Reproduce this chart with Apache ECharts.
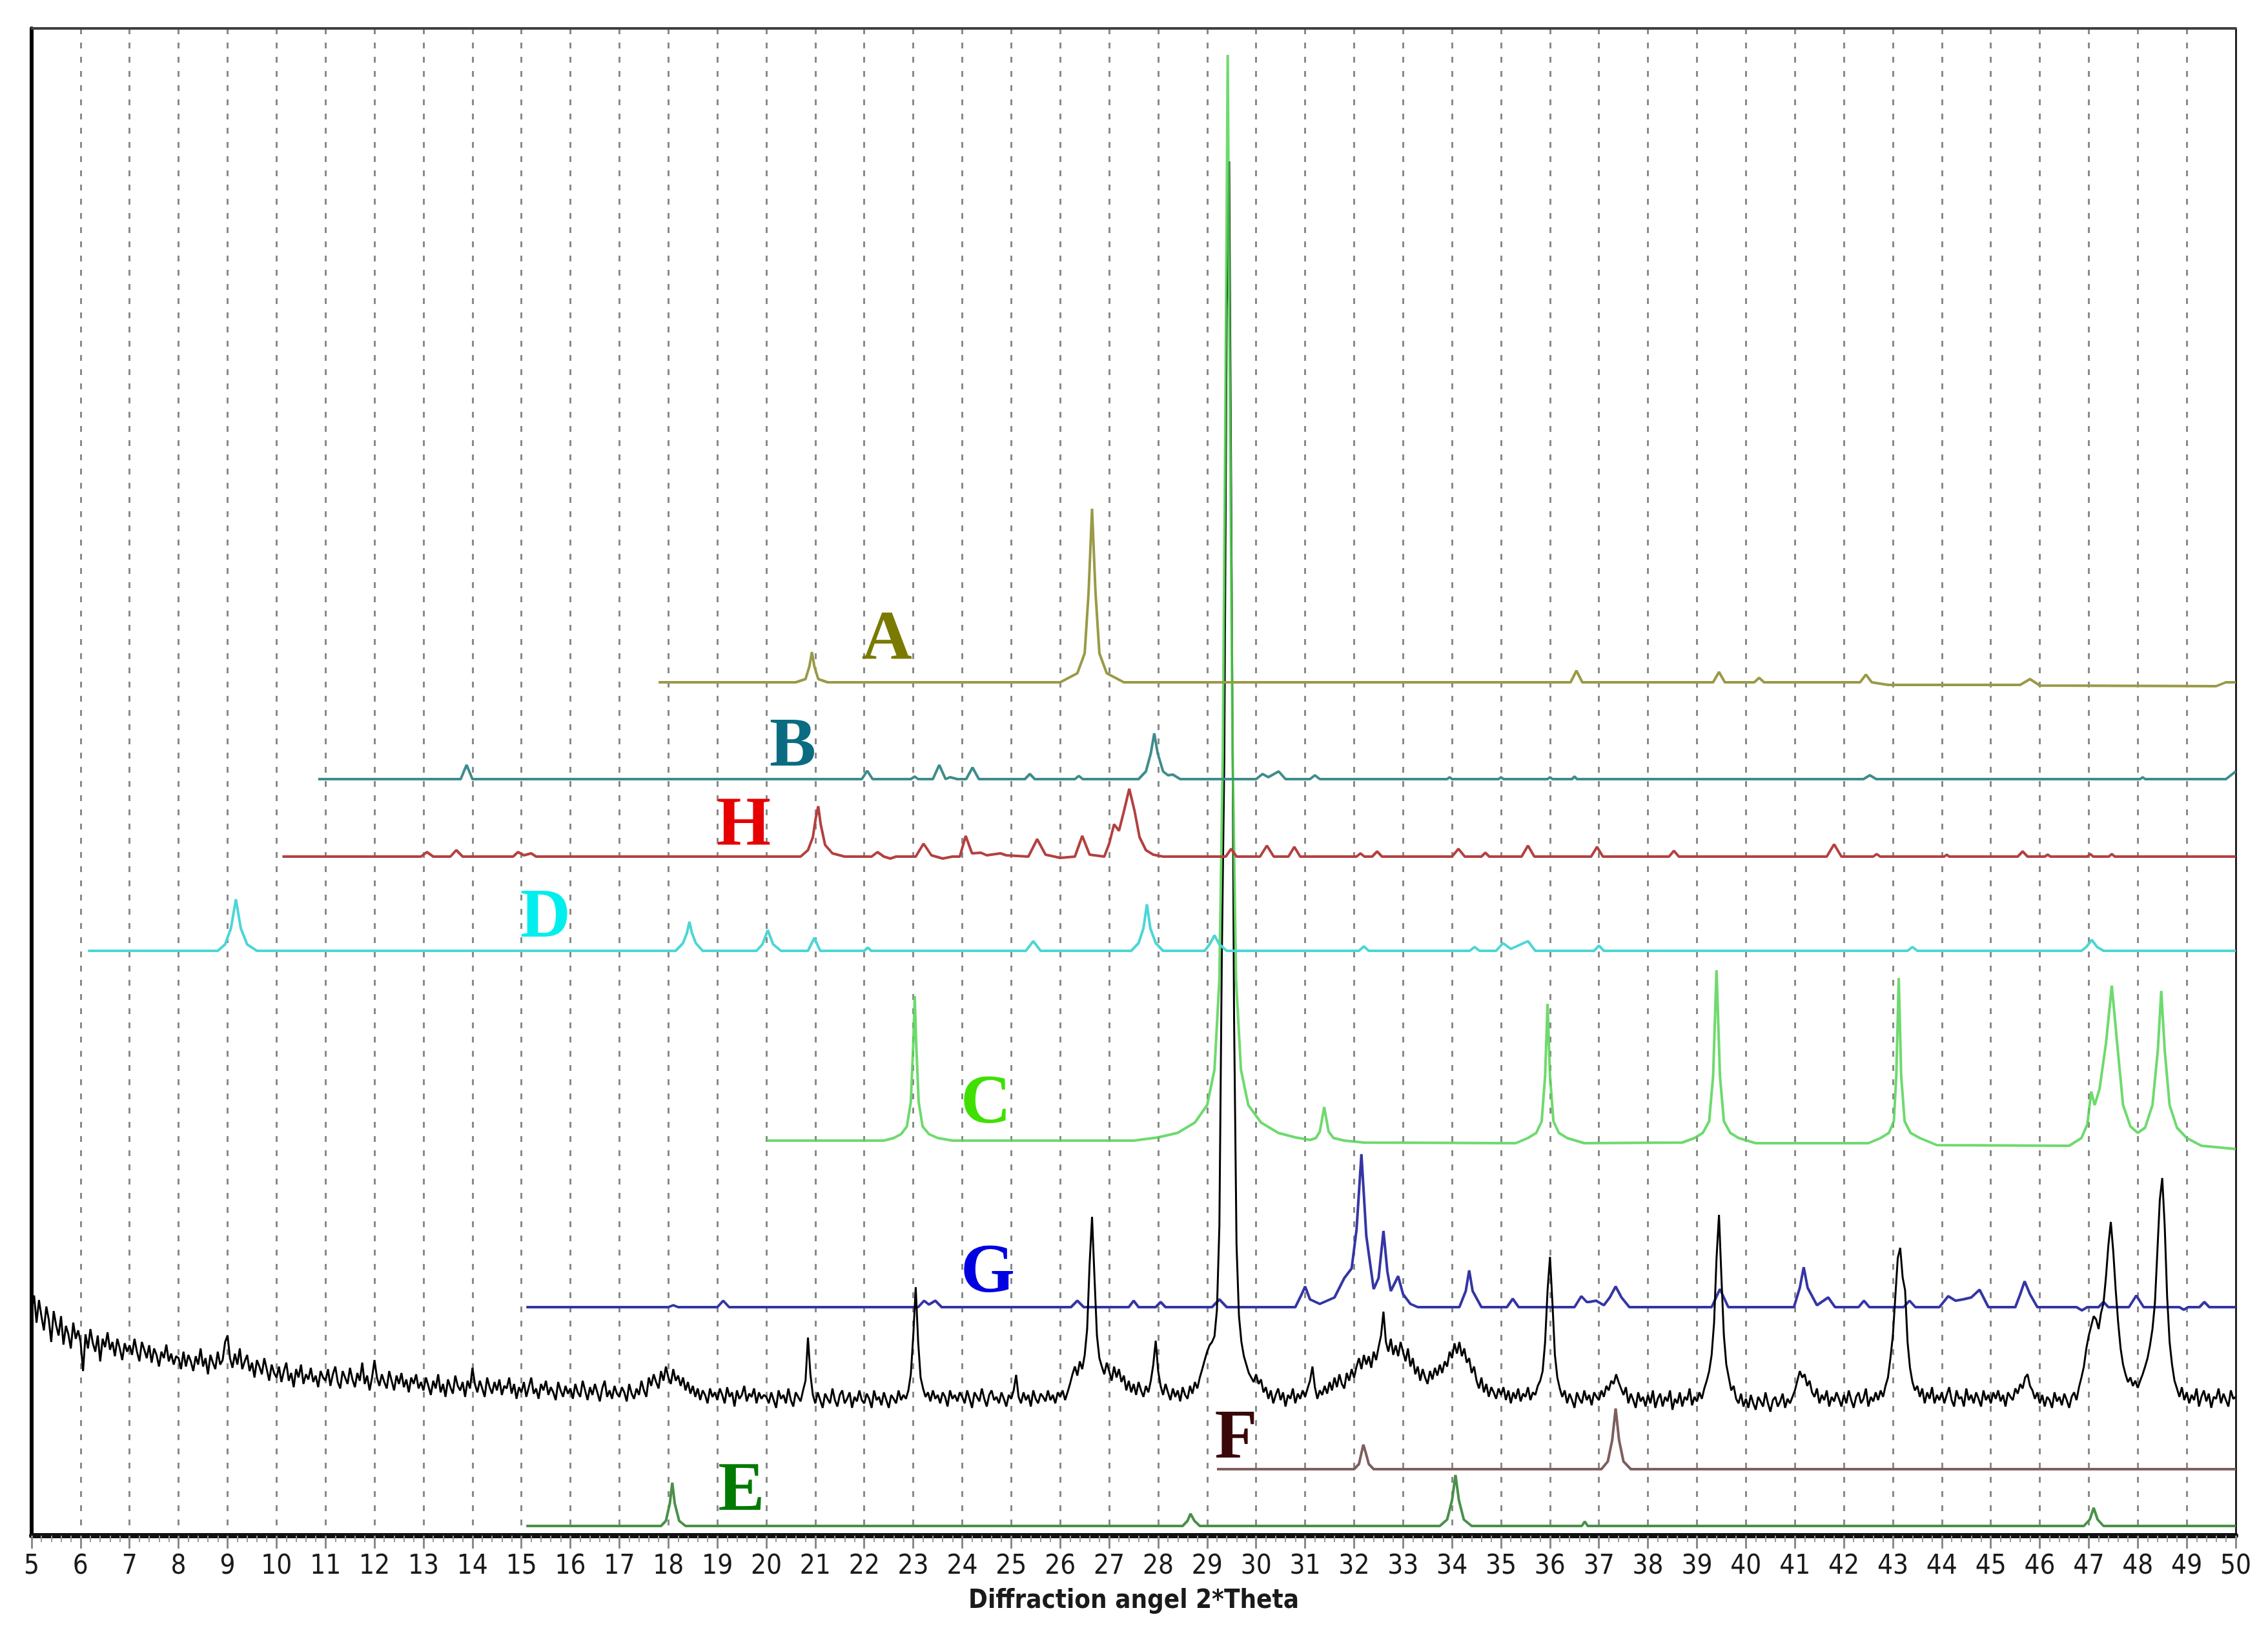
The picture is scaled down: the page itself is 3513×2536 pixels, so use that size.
<!DOCTYPE html>
<html><head><meta charset="utf-8">
<script src="https://cdn.jsdelivr.net/npm/echarts@6/dist/echarts.min.js"></script>
<style>html,body{margin:0;padding:0;background:#fff}#c{width:3513px;height:2536px}</style>
</head><body><div id="c"></div>
<script>
// ---- axis ----
const xMin = 5, xMax = 50, xStep = 1;
const yMin = 0, yMax = 2335;

// ---- measured pattern (black), 2theta from 5.00 step 0.05 ----
const measuredStart = 5, measuredStep = 0.05;
const measured = [
350,372,330,365,340,318,355,335,300,348,326,310,340,296,325,312,290,330,305,318,
300,255,312,290,320,298,285,310,270,305,292,315,288,300,278,305,290,272,298,285,
295,280,305,285,270,300,288,275,295,268,290,280,262,285,275,296,270,282,265,278,
275,258,285,262,280,270,255,278,265,290,262,275,250,280,268,258,285,265,272,300,
310,275,260,282,265,290,258,270,280,255,268,245,272,262,250,275,258,240,265,252,
245,262,238,255,268,240,252,230,258,245,265,235,250,242,260,238,248,230,255,245,
240,258,232,250,262,238,228,255,245,235,260,242,230,252,240,268,235,248,225,245,
272,245,232,250,238,228,255,240,225,248,235,252,230,242,222,245,235,250,228,238,
225,245,232,218,240,228,250,222,235,215,242,230,220,248,232,225,238,215,240,228,
260,235,222,240,228,215,245,230,220,238,225,242,218,232,228,245,220,235,212,230,
222,238,215,230,245,220,228,212,235,225,240,218,230,222,210,238,225,215,232,220,
228,212,235,222,215,240,225,210,230,218,235,222,208,228,240,215,225,212,232,220,
215,230,222,208,235,220,212,228,218,240,225,215,245,232,250,238,228,255,240,262,
245,235,258,240,248,232,245,225,238,220,232,215,228,210,225,218,205,228,215,222,
210,228,218,205,230,215,222,200,225,212,218,232,208,220,215,228,205,222,212,218,
215,205,222,210,198,225,212,218,205,228,210,200,222,215,208,225,240,307,250,218,
205,222,210,198,220,212,205,228,210,200,218,225,205,212,222,198,215,208,225,210,
205,220,212,198,225,210,215,202,222,210,198,218,212,205,225,210,218,212,225,250,
310,385,300,245,228,215,222,208,225,212,218,205,222,215,200,225,212,218,208,222,
215,205,225,212,198,222,215,208,228,212,200,218,225,210,215,205,222,212,200,218,
212,225,249,215,205,222,210,218,200,225,212,205,220,215,208,225,210,218,205,222,
215,225,210,222,235,250,262,248,270,258,280,320,420,494,400,310,275,262,250,268,
255,240,262,245,258,238,248,225,240,222,235,218,238,225,215,232,222,240,265,302,
255,232,218,235,222,210,228,215,225,208,230,218,212,232,220,238,228,245,258,272,
285,295,300,309,350,480,900,1200,1900,2129,1500,800,450,340,300,278,265,252,245,238,
250,235,242,222,230,212,225,205,218,228,210,222,200,218,212,228,205,220,212,225,
215,228,240,262,230,212,225,218,232,220,238,225,245,230,250,235,228,252,240,258,
245,262,275,258,280,265,278,260,285,272,292,310,347,300,285,305,280,295,278,300,
285,270,290,262,275,250,262,240,258,245,235,255,242,260,248,265,252,270,262,285,
275,298,282,300,278,290,268,275,252,262,240,228,245,222,235,215,230,222,212,228,
218,230,210,225,205,222,212,228,208,220,215,230,210,222,218,232,240,255,300,380,
432,360,280,245,228,215,225,205,220,210,198,222,212,205,225,210,218,202,222,215,
210,225,215,232,225,240,235,250,238,228,218,230,205,220,210,198,222,208,215,200,
218,205,225,198,212,220,200,215,208,225,195,212,205,222,200,215,210,228,202,215,
208,222,212,228,240,255,280,330,430,497,400,310,265,245,225,232,212,205,220,200,
212,198,218,205,195,215,208,200,222,205,192,210,215,200,208,220,198,212,205,215,
225,240,255,245,250,232,240,222,215,228,205,218,210,225,200,215,208,222,212,200,
218,205,225,210,198,215,222,205,212,228,200,215,208,222,210,225,215,232,245,275,
310,370,430,446,400,380,300,260,238,225,232,215,228,205,222,212,230,205,218,210,
222,205,218,230,210,200,225,212,215,200,228,210,218,205,222,212,200,225,210,218,
205,222,212,225,208,218,200,222,215,210,228,220,235,228,245,250,232,225,212,222,
205,218,200,215,210,198,222,208,215,202,220,210,198,215,222,210,230,245,262,290,
310,325,340,335,320,345,360,400,450,486,440,380,330,290,265,250,238,245,232,240,
229,240,250,262,275,295,320,360,440,520,554,480,370,300,265,240,228,215,230,210,
222,205,218,210,228,200,215,225,208,220,198,215,212,228,205,220,210,200,225,212,
215
];

// ---- reference patterns: [2theta, intensity above own baseline] ----
const patternA = [[17.8,0],[20.6,0],[20.8,5],[20.88,25],[20.93,47],[20.98,25],[21.06,5],[21.25,0],[26.0,0],[26.35,14],[26.5,45],[26.58,140],[26.65,269],[26.72,140],[26.8,45],[26.95,14],[27.3,0],[36.42,0],[36.54,18],[36.66,0],[39.33,0],[39.45,16],[39.57,0],[40.17,0],[40.27,7],[40.37,0],[42.33,0],[42.45,12],[42.57,0],[42.9,-4],[45.6,-4],[45.8,5],[46.0,-5],[49.6,-6],[49.8,0],[50,0]];
const patternB = [[10.85,0],[13.76,0],[13.88,22],[14.0,0],[21.95,0],[22.06,13],[22.17,0],[22.95,0],[23.03,4],[23.1,0],[23.4,0],[23.53,22],[23.66,0],[23.75,3],[23.9,0],[24.08,0],[24.21,18],[24.34,0],[25.28,0],[25.38,8],[25.48,0],[26.3,0],[26.38,5],[26.46,0],[27.6,0],[27.75,12],[27.85,40],[27.92,71],[27.99,40],[28.1,12],[28.2,6],[28.3,7],[28.45,0],[30.0,0],[30.13,8],[30.25,3],[30.46,12],[30.6,0],[31.1,0],[31.2,6],[31.3,0],[33.9,0],[33.95,3],[34.0,0],[34.95,0],[35.0,3],[35.05,0],[35.95,0],[36.0,3],[36.05,0],[36.45,0],[36.5,4],[36.55,0],[42.4,0],[42.53,6],[42.66,0],[48.05,0],[48.1,3],[48.15,0],[49.8,0],[50.0,12]];
const patternH = [[10.12,0],[12.95,0],[13.07,7],[13.2,0],[13.55,0],[13.67,10],[13.8,0],[14.83,0],[14.93,7],[15.05,2],[15.2,5],[15.3,0],[20.7,0],[20.85,10],[20.95,30],[21.01,60],[21.06,78],[21.11,50],[21.2,18],[21.35,5],[21.6,0],[22.15,0],[22.27,7],[22.4,0],[22.53,-3],[22.65,0],[23.05,0],[23.21,20],[23.37,2],[23.6,-3],[23.8,0],[23.95,0],[24.07,32],[24.2,5],[24.38,6],[24.5,2],[24.78,5],[24.9,2],[25.35,0],[25.53,27],[25.7,3],[26.0,-2],[26.3,0],[26.45,32],[26.6,3],[26.9,0],[27.0,20],[27.1,50],[27.2,40],[27.3,70],[27.41,105],[27.52,70],[27.62,30],[27.75,10],[27.9,3],[28.1,0],[29.38,0],[29.49,12],[29.6,0],[30.08,0],[30.22,17],[30.36,0],[30.66,0],[30.78,15],[30.9,0],[32.05,0],[32.13,5],[32.21,0],[32.37,0],[32.47,8],[32.57,0],[34.0,0],[34.13,12],[34.26,0],[34.6,0],[34.68,6],[34.76,0],[35.42,0],[35.55,17],[35.68,0],[36.84,0],[36.96,15],[37.08,0],[38.43,0],[38.53,9],[38.63,0],[41.65,0],[41.8,19],[41.95,0],[42.6,0],[42.67,4],[42.74,0],[44.05,0],[44.1,3],[44.15,0],[45.55,0],[45.65,8],[45.75,0],[46.1,0],[46.16,3],[46.22,0],[46.97,0],[47.03,4],[47.09,0],[47.41,0],[47.47,4],[47.53,0],[50,0]];
const patternD = [[6.15,0],[8.8,0],[8.95,10],[9.07,35],[9.17,80],[9.27,35],[9.4,10],[9.6,0],[18.15,0],[18.3,12],[18.38,28],[18.43,45],[18.48,28],[18.56,12],[18.7,0],[19.8,0],[19.92,10],[20.03,32],[20.14,10],[20.3,0],[20.85,0],[20.98,20],[21.1,0],[22.0,0],[22.07,5],[22.14,0],[25.3,0],[25.45,15],[25.6,0],[27.45,0],[27.6,12],[27.7,35],[27.77,72],[27.84,35],[27.95,12],[28.1,0],[28.95,0],[29.05,10],[29.15,24],[29.25,10],[29.4,0],[32.1,0],[32.2,7],[32.3,0],[34.36,0],[34.46,6],[34.56,0],[34.9,0],[35.04,12],[35.2,3],[35.55,15],[35.7,0],[36.9,0],[37.0,8],[37.1,0],[43.3,0],[43.4,6],[43.5,0],[46.85,0],[46.95,6],[47.06,17],[47.17,6],[47.3,0],[50,0]];
const patternC = [[20.0,0],[22.4,0],[22.6,4],[22.75,10],[22.87,22],[22.95,60],[23.0,150],[23.03,224],[23.06,150],[23.11,60],[23.19,22],[23.32,10],[23.5,4],[23.8,0],[27.5,0],[28.0,5],[28.4,12],[28.75,28],[29.0,55],[29.15,110],[29.25,250],[29.32,600],[29.37,1100],[29.42,1682],[29.47,1100],[29.52,600],[29.59,250],[29.69,110],[29.84,55],[30.1,28],[30.45,12],[30.8,5],[31.1,1],[31.22,4],[31.3,14],[31.35,35],[31.39,52],[31.43,35],[31.48,14],[31.58,4],[31.8,0],[32.2,-3],[35.3,-4],[35.55,4],[35.72,12],[35.83,30],[35.9,100],[35.95,212],[36.0,100],[36.07,30],[36.18,12],[36.35,4],[36.7,-4],[38.7,-3],[38.95,4],[39.12,12],[39.25,30],[39.33,100],[39.4,264],[39.47,100],[39.55,30],[39.68,12],[39.85,4],[40.2,-4],[42.5,-4],[42.75,4],[42.92,12],[43.02,30],[43.07,100],[43.12,252],[43.17,100],[43.24,30],[43.36,12],[43.55,4],[43.9,-7],[46.6,-8],[46.85,4],[46.97,25],[47.05,76],[47.12,55],[47.22,80],[47.35,150],[47.47,240],[47.58,150],[47.7,55],[47.85,22],[48.0,12],[48.15,20],[48.3,55],[48.41,140],[48.48,232],[48.55,140],[48.65,55],[48.8,20],[49.0,4],[49.3,-8],[50,-13]];
const patternG = [[15.1,0],[18.0,0],[18.1,3],[18.2,0],[19.0,0],[19.12,10],[19.24,0],[23.1,0],[23.22,10],[23.32,4],[23.45,10],[23.58,0],[26.22,0],[26.35,10],[26.48,0],[27.4,0],[27.5,10],[27.6,0],[27.95,0],[28.05,8],[28.15,0],[29.1,0],[29.25,12],[29.4,0],[30.8,0],[30.93,20],[31.0,32],[31.1,12],[31.3,5],[31.6,15],[31.8,45],[31.95,60],[32.05,120],[32.15,237],[32.25,110],[32.4,28],[32.5,45],[32.6,118],[32.68,55],[32.75,25],[32.9,48],[33.0,20],[33.15,5],[33.3,0],[34.15,0],[34.28,25],[34.35,57],[34.42,25],[34.6,0],[35.12,0],[35.24,13],[35.36,0],[36.5,0],[36.64,17],[36.75,8],[36.8,8],[36.94,10],[37.1,3],[37.22,15],[37.34,32],[37.46,15],[37.62,0],[39.3,0],[39.47,28],[39.64,0],[40.98,0],[41.1,30],[41.18,62],[41.26,30],[41.45,3],[41.68,15],[41.82,0],[42.3,0],[42.41,10],[42.52,0],[43.22,0],[43.34,10],[43.46,0],[43.95,0],[44.13,17],[44.28,10],[44.43,12],[44.6,15],[44.77,27],[44.95,0],[45.5,0],[45.6,20],[45.69,40],[45.8,20],[45.95,0],[46.75,0],[46.86,-5],[46.97,0],[47.2,0],[47.3,8],[47.4,0],[47.82,0],[47.97,18],[48.12,0],[48.85,0],[48.94,-4],[49.03,0],[49.26,0],[49.36,8],[49.46,0],[50,0]];
const patternF = [[29.2,0],[32.0,0],[32.1,8],[32.15,25],[32.19,38],[32.24,25],[32.3,8],[32.4,0],[37.05,0],[37.18,12],[37.27,45],[37.34,94],[37.41,45],[37.5,12],[37.65,0],[50,0]];
const patternE = [[15.1,0],[17.85,0],[17.95,8],[18.03,35],[18.08,67],[18.13,35],[18.22,8],[18.35,0],[28.5,0],[28.6,8],[28.66,19],[28.74,8],[28.85,0],[33.75,0],[33.9,10],[34.0,40],[34.07,79],[34.14,40],[34.24,10],[34.4,0],[36.65,0],[36.71,7],[36.77,0],[46.9,0],[47.02,10],[47.1,28],[47.18,10],[47.3,0],[50,0]];

// vertical stacking offset of each reference trace
const offsets = {A:1322, B:1172, H:1052, D:906, C:612, G:354, F:103, E:15};
const patternData = {A:patternA, B:patternB, H:patternH, D:patternD, C:patternC, G:patternG, F:patternF, E:patternE};

// trace labels
const labelNames = ['A','B','H','D','C','G','F','E'];
const labelAt = [[22.46,1386],[20.54,1221],[19.54,1098],[15.49,956],[24.48,668],[24.52,406],[29.59,149],[19.49,68]];

// ---- styles ----
const lineColors = {A:'#9a9a48', B:'#3f8c8c', H:'#b44040', D:'#4cd6d6', C:'#55d455', G:'#3535a5', F:'#7f5e5e', E:'#4a904a'};
const labelColors = {A:'#7a7a00', B:'#0b6b80', H:'#e60000', D:'#00eeee', C:'#3fe000', G:'#0000e0', F:'#3a0808', E:'#007a00'};
const numFont = "'Liberation Sans Narrow','Arial Narrow','DejaVu Sans Condensed',sans-serif";

const chart = echarts.init(document.getElementById('c'), null, {renderer:'canvas', devicePixelRatio:1});

const measuredSeries = {
  type:'line', name:'measured', xAxisIndex:0, yAxisIndex:0,
  data: measured.map((v,i)=>[+(measuredStart + i*measuredStep).toFixed(2), v]),
  showSymbol:false, symbol:'none', silent:true, animation:false,
  lineStyle:{color:'#000', width:3}, z:3
};
function patternSeries(n){
  return {
    type:'line', name:n, xAxisIndex:0, yAxisIndex:0,
    data: patternData[n].map(p=>[p[0], p[1] + offsets[n]]),
    showSymbol:false, symbol:'none', silent:true, animation:false,
    lineStyle:{color:lineColors[n], width:4, opacity: n==='C'?0.85:1},
    z: (n==='E'||n==='F'||n==='G') ? 2 : 4
  };
}
const series = [];
['E','F','G'].forEach(n=>series.push(patternSeries(n)));
series.push(measuredSeries);
['C','D','H','B','A'].forEach(n=>series.push(patternSeries(n)));
series.push({
  type:'scatter', xAxisIndex:0, yAxisIndex:0, silent:true, animation:false, z:10,
  symbolSize:2, itemStyle:{color:'rgba(255,255,255,0)'},
  data: labelNames.map((n,i)=>({name:n, value:labelAt[i], label:{color:labelColors[n]}})),
  label:{show:true, position:'inside', formatter:'{b}', opacity:1, fontFamily:"'Liberation Serif','Times New Roman',serif", fontWeight:'bold', fontSize:108}
});

chart.setOption({
  animation:false,
  backgroundColor:'#ffffff',
  grid:{left:49, right:50, top:44, bottom:157},
  xAxis:[{
    type:'value', min:xMin, max:xMax, interval:xStep, position:'bottom',
    axisLine:{show:true, onZero:false, lineStyle:{color:'#111', width:8}},
    axisTick:{show:true, inside:false, length:20, lineStyle:{color:'#8a8a8a', width:3}},
    minorTick:{show:true, splitNumber:5, length:10, lineStyle:{color:'#9a9a9a', width:2}},
    axisLabel:{fontSize:42, fontFamily:numFont, color:'#1a1a1a', margin:27},
    splitLine:{show:true, lineStyle:{color:'#8a8a8a', width:3, type:[9,13]}},
    name:'Diffraction angel 2*Theta', nameLocation:'middle', nameGap:82,
    nameTextStyle:{fontSize:40, fontWeight:'bold', fontFamily:numFont, color:'#1a1a1a'}
  },{
    type:'value', min:xMin, max:xMax, position:'top',
    axisLine:{show:true, onZero:false, lineStyle:{color:'#404040', width:4}},
    axisTick:{show:false}, axisLabel:{show:false}, splitLine:{show:false}
  }],
  yAxis:[{
    type:'value', min:yMin, max:yMax, position:'left',
    axisLine:{show:true, onZero:false, lineStyle:{color:'#000', width:6}},
    axisTick:{show:false}, axisLabel:{show:false}, splitLine:{show:false}
  },{
    type:'value', min:yMin, max:yMax, position:'right',
    axisLine:{show:true, onZero:false, lineStyle:{color:'#222', width:3}},
    axisTick:{show:false}, axisLabel:{show:false}, splitLine:{show:false}
  }],
  series: series
});
</script>
</body></html>
